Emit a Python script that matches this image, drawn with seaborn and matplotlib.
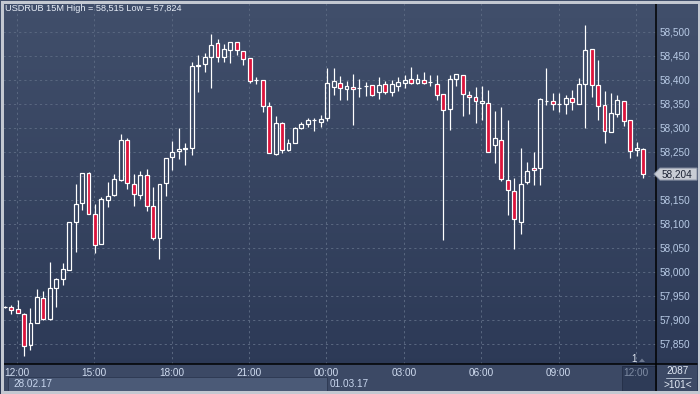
import numpy as np
import pandas as pd
import matplotlib
matplotlib.use("Agg")
import matplotlib.pyplot as plt
import seaborn as sns
from matplotlib.transforms import Affine2D
from matplotlib.patches import Rectangle, Polygon
from matplotlib.lines import Line2D

# ---------------- data ----------------
opens = [57.927, 57.927, 57.923, 57.9125, 57.848, 57.894, 57.946, 57.903, 57.966, 57.985,
         58.005, 58.104, 58.144, 58.206, 58.121, 58.058, 58.150, 58.160, 58.192, 58.275,
         58.183, 58.160, 58.202, 58.137, 58.070, 58.185, 58.240, 58.252, 58.257, 58.258,
         58.430, 58.433, 58.448, 58.477, 58.448, 58.463, 58.479, 58.460, 58.446, 58.399,
         58.400, 58.346, 58.245, 58.310, 58.254, 58.269, 58.300, 58.308, 58.316, 58.312,
         58.320, 58.385, 58.394, 58.381, 58.385, 58.383, 58.387, 58.390, 58.374, 58.392,
         58.376, 58.387, 58.394, 58.402, 58.394, 58.400, 58.396, 58.392, 58.371, 58.339,
         58.403, 58.410, 58.368, 58.365, 58.352, 58.352, 58.264, 58.275, 58.191, 58.169,
         58.104, 58.187, 58.216, 58.216, 58.356, 58.356, 58.350, 58.350, 58.362, 58.350,
         58.392, 58.4646, 58.390, 58.348, 58.292, 58.329, 58.356, 58.317, 58.254, 58.256]
highs = [57.929, 57.932, 57.942, 57.915, 57.924, 57.965, 57.961, 58.021, 57.987, 58.019,
         58.105, 58.184, 58.207, 58.208, 58.142, 58.156, 58.187, 58.205, 58.288, 58.280,
         58.205, 58.211, 58.215, 58.178, 58.183, 58.238, 58.272, 58.301, 58.269, 58.437,
         58.453, 58.456, 58.496, 58.485, 58.476, 58.480, 58.480, 58.460, 58.446, 58.406,
         58.400, 58.354, 58.326, 58.312, 58.278, 58.302, 58.312, 58.320, 58.320, 58.328,
         58.425, 58.425, 58.409, 58.397, 58.413, 58.403, 58.395, 58.390, 58.407, 58.397,
         58.401, 58.407, 58.411, 58.428, 58.413, 58.417, 58.411, 58.411, 58.371, 58.411,
         58.413, 58.410, 58.378, 58.386, 58.388, 58.380, 58.336, 58.344, 58.316, 58.196,
         58.258, 58.230, 58.251, 58.363, 58.426, 58.373, 58.373, 58.369, 58.380, 58.404,
         58.515, 58.465, 58.442, 58.377, 58.373, 58.369, 58.356, 58.317, 58.271, 58.258]
lows = [57.925, 57.912, 57.915, 57.824, 57.838, 57.893, 57.901, 57.901, 57.928, 57.973,
        58.004, 58.041, 58.130, 58.121, 58.040, 58.058, 58.135, 58.158, 58.190, 58.172,
        58.137, 58.153, 58.128, 58.066, 58.028, 58.159, 58.213, 58.236, 58.222, 58.243,
        58.374, 58.416, 58.383, 58.437, 58.437, 58.435, 58.453, 58.431, 58.394, 58.392,
        58.333, 58.248, 58.243, 58.248, 58.253, 58.268, 58.297, 58.303, 58.293, 58.302,
        58.314, 58.369, 58.359, 58.359, 58.307, 58.364, 58.367, 58.366, 58.361, 58.371,
        58.367, 58.378, 58.383, 58.392, 58.392, 58.392, 58.388, 58.359, 58.067, 58.2965,
        58.388, 58.324, 58.330, 58.311, 58.317, 58.249, 58.228, 58.189, 58.118, 58.048,
        58.079, 58.183, 58.181, 58.181, 58.347, 58.337, 58.333, 58.329, 58.337, 58.350,
        58.299, 58.365, 58.316, 58.269, 58.292, 58.323, 58.305, 58.237, 58.241, 58.195]
closes = [57.927, 57.921, 57.915, 57.846, 57.894, 57.948, 57.902, 57.967, 57.985, 58.006,
          58.104, 58.142, 58.206, 58.121, 58.056, 58.153, 58.158, 58.194, 58.275, 58.185,
          58.162, 58.202, 58.137, 58.070, 58.183, 58.237, 58.250, 58.256, 58.259, 58.429,
          58.431, 58.448, 58.473, 58.448, 58.465, 58.479, 58.463, 58.444, 58.398, 58.399,
          58.346, 58.248, 58.310, 58.254, 58.269, 58.300, 58.308, 58.317, 58.317, 58.319,
          58.394, 58.398, 58.383, 58.388, 58.381, 58.383, 58.388, 58.368, 58.390, 58.376,
          58.392, 58.396, 58.400, 58.394, 58.402, 58.394, 58.396, 58.368, 58.3375, 58.402,
          58.412, 58.370, 58.364, 58.356, 58.356, 58.250, 58.279, 58.193, 58.171, 58.110,
          58.183, 58.210, 58.212, 58.360, 58.356, 58.350, 58.350, 58.362, 58.354, 58.392,
          58.4625, 58.390, 58.346, 58.294, 58.331, 58.358, 58.315, 58.252, 58.258, 58.204]

time_tick_index = [2, 14, 26, 38, 50, 62, 74, 86, 98]
time_tick_labels = ["12:00", "15:00", "18:00", "21:00", "00:00", "03:00", "06:00", "09:00", "12:00"]
date_labels = ["28.02.17", "01.03.17"]
price_ticks = [57.85, 57.90, 57.95, 58.00, 58.05, 58.10, 58.15, 58.20, 58.25,
               58.30, 58.35, 58.40, 58.45, 58.50]
title_text = "USDRUB 15M High = 58,515 Low = 57,824"
last_price_text = "58,204"
bars_text = "2087"
count_text = ">101<"

# ---------------- style ----------------
sns.set_theme(style="dark")
plt.rcParams['font.family'] = ['Liberation Sans', 'DejaVu Sans']

W, H = 700, 394
fig = plt.figure(figsize=(W / 100, H / 100), dpi=100)
pix = Affine2D().scale(1 / W, -1 / H).translate(0, 1) + fig.transFigure
PX = 0.72  # one pixel in points

# background axes (pixel coordinates, y downward)
bg = fig.add_axes([0, 0, 1, 1])
bg.set_xlim(0, W)
bg.set_ylim(H, 0)
bg.axis('off')
top_c = np.array([65, 79, 107]) / 255
bot_c = np.array([43, 56, 85]) / 255
t = np.linspace(0, 1, H)[:, None]
grad = (top_c * (1 - t) + bot_c * t).reshape(H, 1, 3)
bg.imshow(grad, extent=[0, W, H, 0], aspect='auto', zorder=0)
# time axis strip
bg.add_patch(Rectangle((3, 364), 694, 27, facecolor='#3c4965', edgecolor='none', zorder=1))
# date strip (first day)
bg.add_patch(Rectangle((8, 377), 319, 14, facecolor='#4b5a77', edgecolor='#2f3b55', lw=PX, zorder=2))
# current-time box
bg.add_patch(Rectangle((622, 365.5), 34, 25, facecolor='#2e3b57', edgecolor='#26314a', lw=PX, zorder=2))
# bottom right counter box
bg.add_patch(Rectangle((657, 364), 40, 27, facecolor='#3c4965', edgecolor='none', zorder=2))

# main chart axes
ax = fig.add_axes([3 / W, (H - 364) / H, (656 - 3) / W, (364 - 3) / H])
ax.set_facecolor('none')

df = pd.DataFrame({'open': opens, 'high': highs, 'low': lows, 'close': closes})
df['idx'] = np.arange(len(df))
df['top'] = df[['open', 'close']].max(axis=1)
df['bot'] = df[['open', 'close']].min(axis=1)
df['down'] = df['close'] < df['open']

ax.vlines(df['idx'], df['top'], df['high'], color='white', lw=1.2 * PX, zorder=3)
ax.vlines(df['idx'], df['low'], df['bot'], color='white', lw=1.2 * PX, zorder=3)
face = ['#dc143c' if d else 'none' for d in df['down']]
ax.bar(df['idx'], df['top'] - df['bot'], bottom=df['bot'], width=0.6,
       color=face, edgecolor='white', linewidth=1.2 * PX, zorder=4)

ax.set_xlim(-0.26, 100.98)
ax.set_ylim(57.8083, 58.5604)

# price labels; the one under the last-price tag is hidden, as in the reference
last_close = closes[-1]
ylabels = []
for v in price_ticks:
    lab = f"{v:.3f}".replace('.', ',')
    if abs(v - last_close) < 0.015:
        lab = ""
    ylabels.append(lab)
ax.yaxis.tick_right()
ax.set_yticks(price_ticks)
ax.set_yticklabels(ylabels)
ax.set_xticks(np.array(time_tick_index) - 0.12)
ax.set_xticklabels(time_tick_labels)
ax.tick_params(axis='y', length=0, pad=2.4, labelsize=7.2, labelcolor='#b9cbe6')
ax.tick_params(axis='x', length=0, pad=3.0, labelsize=7.2, labelcolor='#d0dcf0')
ax.get_xticklabels()[-1].set_color('#7f8ca4')
ax.grid(True, color='#58667f', linestyle=(0, (2.2, 3)), lw=PX)
for s in ax.spines.values():
    s.set_visible(False)

# black axis lines
fig.add_artist(Line2D([3, 697], [364, 364], transform=pix, color='black', lw=1.5 * PX, zorder=5))
fig.add_artist(Line2D([656, 656], [3, 391], transform=pix, color='black', lw=1.5 * PX, zorder=5))

# title
fig.text(5 / W, 1 - 8.5 / H, title_text, color='#e8eef8', fontsize=6.6, va='center', ha='left')

# dates
fig.text(13 / W, 1 - 384 / H, date_labels[0], color='#c8d6ee', fontsize=7.2, va='center', ha='left')
fig.text(330 / W, 1 - 384 / H, date_labels[1], color='#c8d6ee', fontsize=7.2, va='center', ha='left')

# counter box texts
fig.text(678 / W, 1 - 371 / H, bars_text, color='#e0e8f4', fontsize=7.2, va='center', ha='center')
fig.add_artist(Line2D([666, 691], [377.7, 377.7], transform=pix, color='#aab6c8', lw=PX, zorder=5))
fig.text(678 / W, 1 - 384.5 / H, count_text, color='#e0e8f4', fontsize=7.2, va='center', ha='center')

# small "1" marker near the current time
fig.text(633.5 / W, 1 - 359 / H, "1", color='#dfe6f0', fontsize=7, va='center', ha='center')
fig.add_artist(Polygon([[639, 362], [642, 358.5], [645, 362]], closed=True, transform=pix,
                       facecolor='#6c7890', edgecolor='none', zorder=5))

# last price tag
fig.canvas.draw()
ty = H - ax.transData.transform((0, last_close))[1]
tag = Polygon([[654, ty], [660, ty - 6], [697, ty - 6], [697, ty + 6], [660, ty + 6]],
              closed=True, transform=pix, facecolor='#c9cdd5', edgecolor='#8a93a5', lw=PX, zorder=6)
fig.add_artist(tag)
fig.text(662 / W, 1 - ty / H, last_price_text, color='#1b2233', fontsize=7.2, va='center', ha='left', zorder=7)

# outer frame
fig.add_artist(Rectangle((1.5, 1.5), W - 3, H - 3, transform=pix, facecolor='none',
                         edgecolor='#c3c8d1', lw=3 * PX, zorder=8))

fig.savefig("out.png", dpi=100)
